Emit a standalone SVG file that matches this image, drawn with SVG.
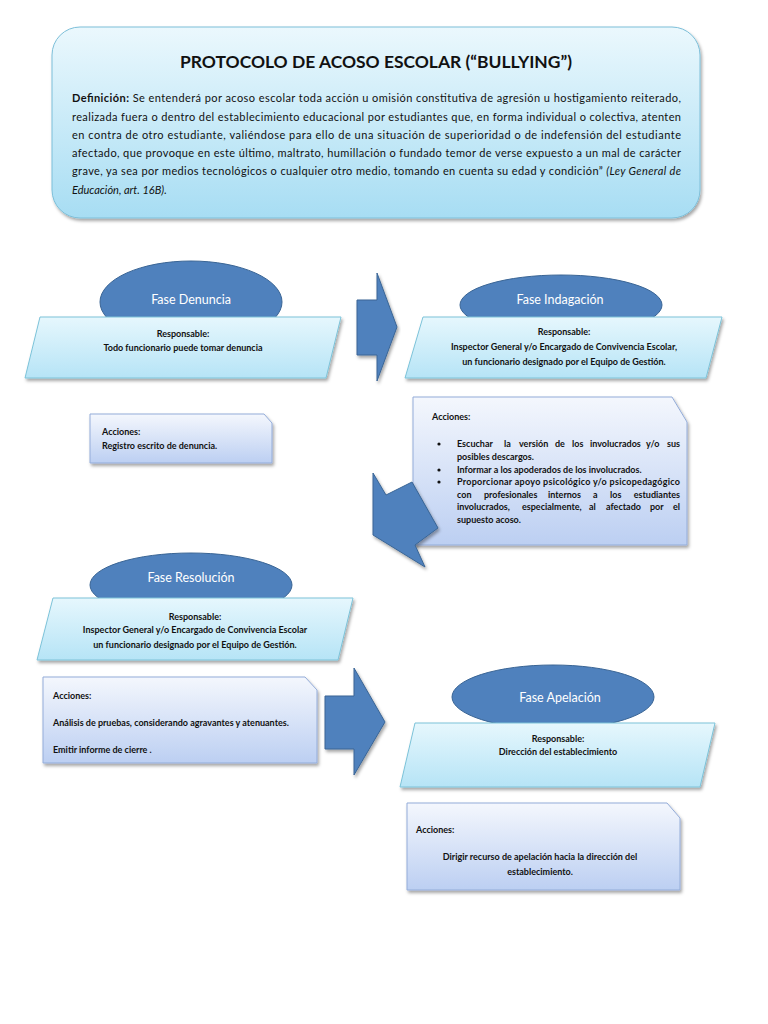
<svg xmlns="http://www.w3.org/2000/svg" width="768" height="1024" viewBox="0 0 768 1024">
<style>
  text { font-family: Lato, "Liberation Sans", sans-serif; fill: #111; }
  .title { font-size: 17px; font-weight: bold; }
  .def { font-size: 11px; }
  .b { font-weight: bold; }
  .i { font-style: italic; }
  .phase { font-size: 12.5px; fill: #ffffff; }
  .sm { font-size: 9px; font-weight: bold; }
  .ell { fill: #4f81bd; stroke: #3a6595; stroke-width: 1; }
  .par { fill: url(#gPar); stroke: #7cc3d9; stroke-width: 1; }
  .act { fill: url(#gAct); stroke: #93acd9; stroke-width: 1; }
  .arr { fill: #4f81bd; stroke: #3a6595; stroke-width: 1; }
</style>
<defs>
  <linearGradient id="gTitle" x1="0" y1="0" x2="0" y2="1">
    <stop offset="0" stop-color="#ebf8fd"/>
    <stop offset="1" stop-color="#a7ddf3"/>
  </linearGradient>
  <linearGradient id="gPar" x1="0" y1="0" x2="0" y2="1">
    <stop offset="0" stop-color="#e6f7fd"/>
    <stop offset="1" stop-color="#b6e4f6"/>
  </linearGradient>
  <linearGradient id="gAct" x1="0" y1="0" x2="0" y2="1">
    <stop offset="0" stop-color="#f4f7fd"/>
    <stop offset="1" stop-color="#bccff2"/>
  </linearGradient>
  <filter id="sh" x="-10%" y="-10%" width="120%" height="130%">
    <feDropShadow dx="1.5" dy="2.5" stdDeviation="1.8" flood-color="#000" flood-opacity="0.35"/>
  </filter>
</defs>
<rect width="768" height="1024" fill="#ffffff"/>

<g id="title-box">
  <rect x="52" y="27" width="648" height="191" rx="28" ry="28" fill="url(#gTitle)" stroke="#7cbfd9" stroke-width="1" filter="url(#sh)"/>
  <text class="title" x="376" y="68" text-anchor="middle" textLength="392" lengthAdjust="spacingAndGlyphs">PROTOCOLO DE ACOSO ESCOLAR (“BULLYING”)</text>
  <text class="def" x="72" y="102" textLength="609" lengthAdjust="spacing"><tspan class="b">Definición:</tspan> Se entenderá por acoso escolar toda acción u omisión constitutiva de agresión u hostigamiento reiterado,</text>
  <text class="def" x="72" y="120.5" textLength="609" lengthAdjust="spacing">realizada fuera o dentro del establecimiento educacional por estudiantes que, en forma individual o colectiva, atenten</text>
  <text class="def" x="72" y="139" textLength="609" lengthAdjust="spacing">en contra de otro estudiante, valiéndose para ello de una situación de superioridad o de indefensión del estudiante</text>
  <text class="def" x="72" y="157" textLength="609" lengthAdjust="spacing">afectado, que provoque en este último, maltrato, humillación o fundado temor de verse expuesto a un mal de carácter</text>
  <text class="def" x="72" y="175" textLength="609" lengthAdjust="spacing">grave, ya sea por medios tecnológicos o cualquier otro medio, tomando en cuenta su edad y condición”  <tspan class="i">(Ley General de</tspan></text>
  <text class="def i" x="72" y="194">Educación, art. 16B).</text>
</g>

<g id="connectors">
  <polygon class="arr" points="357,300 377,300 377,273 397,327 377,381 377,355 357,355" filter="url(#sh)"/>
  <polygon class="arr" points="325,696 354,696 354,668 385,722 354,775 354,749 325,749" filter="url(#sh)"/>
</g>

<g id="fase-denuncia">
  <ellipse class="ell" cx="191" cy="302" rx="91" ry="41"/>
  <text class="phase" x="191" y="304" text-anchor="middle">Fase Denuncia</text>
  <polygon class="par" points="40,317 341,317 326,378 25,378" filter="url(#sh)"/>
  <text class="sm" x="183" y="337" text-anchor="middle">Responsable:</text>
  <text class="sm" x="183" y="351" text-anchor="middle">Todo funcionario puede tomar denuncia</text>
</g>

<g id="acciones-denuncia">
  <path class="act" d="M90,414 H264 L272,423 V463 H90 Z" filter="url(#sh)"/>
  <text class="sm" x="102" y="435">Acciones:</text>
  <text class="sm" x="102" y="449">Registro escrito de denuncia.</text>
</g>

<g id="fase-indagacion">
  <ellipse class="ell" cx="561" cy="305" rx="101" ry="30"/>
  <text class="phase" x="560" y="304" text-anchor="middle">Fase Indagación</text>
  <polygon class="par" points="423,317 722,317 706,378 405,378" filter="url(#sh)"/>
  <text class="sm" x="564" y="335" text-anchor="middle">Responsable:</text>
  <text class="sm" x="564" y="350" text-anchor="middle">Inspector General y/o Encargado de Convivencia Escolar,</text>
  <text class="sm" x="564" y="365" text-anchor="middle">un funcionario designado por el Equipo de Gestión.</text>
</g>

<g id="acciones-indagacion">
  <path class="act" d="M413,397 H672 L687,422 V545 H413 Z" filter="url(#sh)"/>
  <text class="sm" x="432" y="420">Acciones:</text>
  <circle cx="439" cy="444" r="1.6" fill="#111"/>
  <circle cx="439" cy="470" r="1.6" fill="#111"/>
  <circle cx="439" cy="482" r="1.6" fill="#111"/>
  <text class="sm" y="447"><tspan x="457">Escuchar</tspan><tspan x="504">la</tspan><tspan x="519">versión</tspan><tspan x="555">de</tspan><tspan x="572">los</tspan><tspan x="590">involucrados</tspan><tspan x="646">y/o</tspan><tspan x="680" text-anchor="end">sus</tspan></text>
  <text class="sm" x="457" y="460">posibles descargos.</text>
  <text class="sm" x="457" y="473">Informar a los apoderados de los involucrados.</text>
  <text class="sm" x="457" y="485" textLength="223" lengthAdjust="spacing">Proporcionar apoyo psicológico y/o psicopedagógico</text>
  <text class="sm" y="498"><tspan x="457">con</tspan><tspan x="484">profesionales</tspan><tspan x="548">internos</tspan><tspan x="593">a</tspan><tspan x="610">los</tspan><tspan x="680" text-anchor="end">estudiantes</tspan></text>
  <text class="sm" y="510"><tspan x="457">involucrados,</tspan><tspan x="522">especialmente,</tspan><tspan x="589">al</tspan><tspan x="606">afectado</tspan><tspan x="650">por</tspan><tspan x="680" text-anchor="end">el</tspan></text>
  <text class="sm" x="457" y="523">supuesto acoso.</text>
</g>

<g id="connector-diagonal">
  <polygon class="arr" points="373,473 386,495 412,482 438,528 415,545 425,567 373,535" filter="url(#sh)"/>
</g>

<g id="fase-resolucion">
  <ellipse class="ell" cx="191" cy="585" rx="101" ry="32"/>
  <text class="phase" x="191" y="582" text-anchor="middle">Fase Resolución</text>
  <polygon class="par" points="53,598 353,598 338,660 37,660" filter="url(#sh)"/>
  <text class="sm" x="195" y="620" text-anchor="middle">Responsable:</text>
  <text class="sm" x="195" y="633" text-anchor="middle">Inspector General y/o Encargado de Convivencia Escolar</text>
  <text class="sm" x="195" y="648" text-anchor="middle">un funcionario designado por el Equipo de Gestión.</text>
</g>

<g id="acciones-resolucion">
  <path class="act" d="M43,677 H305 L317,690 V763 H43 Z" filter="url(#sh)"/>
  <text class="sm" x="53" y="699">Acciones:</text>
  <text class="sm" x="53" y="726">Análisis de pruebas, considerando agravantes y atenuantes.</text>
  <text class="sm" x="53" y="753">Emitir informe de cierre .</text>
</g>

<g id="fase-apelacion">
  <ellipse class="ell" cx="553" cy="697" rx="101" ry="32"/>
  <text class="phase" x="560" y="702" text-anchor="middle">Fase Apelación</text>
  <polygon class="par" points="415,723 715,723 700,787 400,787" filter="url(#sh)"/>
  <text class="sm" x="558" y="742" text-anchor="middle">Responsable:</text>
  <text class="sm" x="558" y="755" text-anchor="middle">Dirección del establecimiento</text>
</g>

<g id="acciones-apelacion">
  <path class="act" d="M407,803 H667 L680,818 V890 H407 Z" filter="url(#sh)"/>
  <text class="sm" x="416" y="833">Acciones:</text>
  <text class="sm" x="540" y="860" text-anchor="middle">Dirigir recurso de apelación hacia la dirección del</text>
  <text class="sm" x="540" y="875" text-anchor="middle">establecimiento.</text>
</g>
</svg>
